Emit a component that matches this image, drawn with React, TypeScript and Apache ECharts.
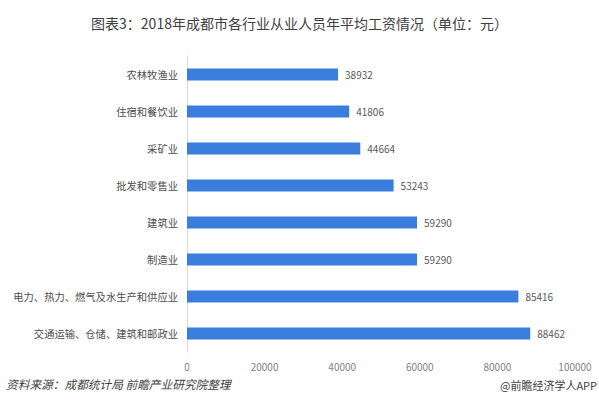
import React, { useEffect, useRef } from "react";
import * as echarts from "echarts";

const categories = [
  "农林牧渔业",
  "住宿和餐饮业",
  "采矿业",
  "批发和零售业",
  "建筑业",
  "制造业",
  "电力、热力、燃气及水生产和供应业",
  "交通运输、仓储、建筑和邮政业",
];
const values = [38932, 41806, 44664, 53243, 59290, 59290, 85416, 88462];
const xTicksMax = 100000;
const xInterval = 20000;

export default function App() {
  const ref = useRef<HTMLDivElement>(null);
  useEffect(() => {
    const chart = echarts.init(ref.current!, null, { renderer: "svg" });
    const font = '"Microsoft YaHei", "Noto Sans CJK SC", sans-serif';
    chart.setOption({
      animation: false,
      backgroundColor: "#ffffff",
      title: {
        text: "图表3：2018年成都市各行业从业人员年平均工资情况（单位：元）",
        left: "center",
        top: 11,
        textStyle: { fontSize: 14, fontWeight: "normal", color: "#404040", fontFamily: font },
      },
      graphic: [
        {
          type: "text",
          left: 6,
          top: 378,
          style: {
            text: "资料来源：成都统计局 前瞻产业研究院整理",
            fontSize: 11.7,
            fontStyle: "italic",
            fill: "#404040",
            fontFamily: font,
          },
        },
        {
          type: "text",
          right: 2,
          top: 379,
          style: {
            text: "@前瞻经济学人APP",
            fontSize: 11,
            fill: "#404040",
            fontFamily: font,
          },
        },
      ],
      grid: { left: 187, right: 24, top: 56, height: 296, containLabel: false },
      xAxis: {
        type: "value",
        min: 0,
        max: xTicksMax,
        interval: xInterval,
        axisLine: { show: false },
        axisTick: { show: false },
        splitLine: { show: false },
        axisLabel: {
          color: "#7f7f7f",
          fontSize: 10,
          margin: 9,
          fontFamily: font,
          formatter: (v: number) => String(v),
        },
      },
      yAxis: {
        type: "category",
        data: categories,
        inverse: true,
        axisLine: { show: true, lineStyle: { color: "#d9d9d9" } },
        axisTick: { show: false },
        axisLabel: { color: "#4d4d4d", fontSize: 10.3, margin: 9, fontFamily: font },
      },
      series: [
        {
          type: "bar",
          data: values,
          barWidth: 12,
          itemStyle: { color: "#3a7ddc" },
          label: {
            show: true,
            position: "right",
            distance: 7,
            color: "#595959",
            fontSize: 10,
            fontFamily: font,
          },
        },
      ],
    });
    return () => chart.dispose();
  }, []);
  return <div ref={ref} style={{ width: 599, height: 408, position: "absolute", left: 0, top: 0 }} />;
}
